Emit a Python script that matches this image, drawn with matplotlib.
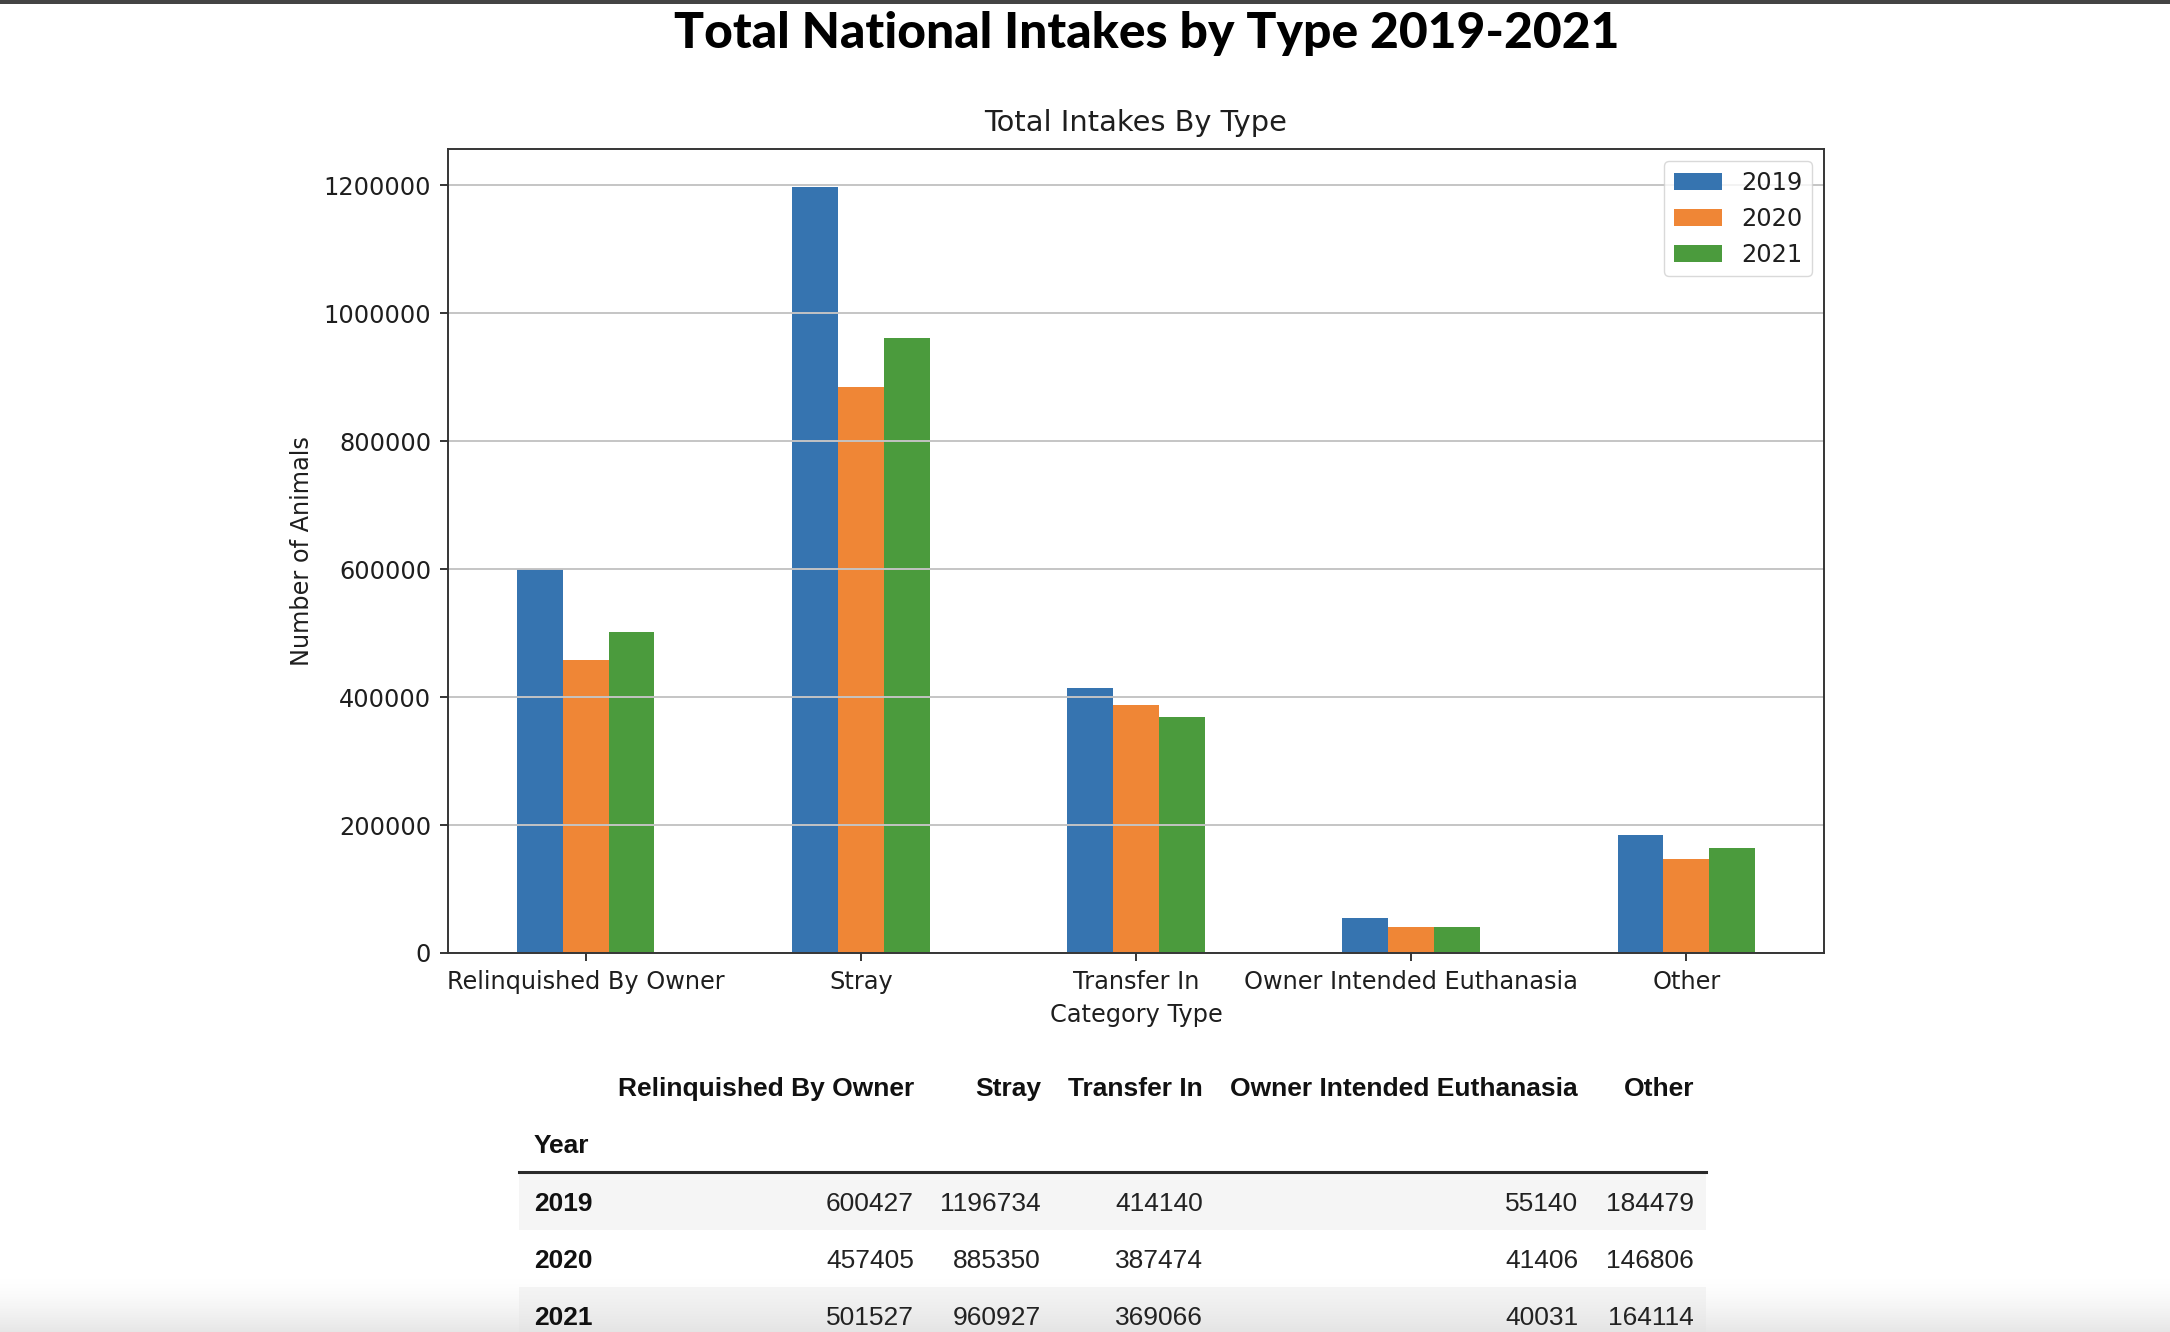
import matplotlib
matplotlib.use("Agg")
import matplotlib.pyplot as plt
import numpy as np
from matplotlib.patches import Rectangle
from matplotlib.ticker import ScalarFormatter

# ---------------- data ----------------
categories = ["Relinquished By Owner", "Stray", "Transfer In",
              "Owner Intended Euthanasia", "Other"]
years = ["2019", "2020", "2021"]
intakes_2019 = [600427, 1196734, 414140, 55140, 184479]
intakes_2020 = [457405, 885350, 387474, 41406, 146806]
intakes_2021 = [501527, 960927, 369066, 40031, 164114]
series = [intakes_2019, intakes_2020, intakes_2021]

main_title = "Total National Intakes by Type 2019-2021"
ax_title = "Total Intakes By Type"
x_label = "Category Type"
y_label = "Number of Animals"
index_name = "Year"

# ---------------- style ----------------
W, H = 2170, 1332
DPI = 100
S = 1.73  # scale relative to matplotlib defaults
colors = ["#3674b0", "#ef8636", "#4b9b3d"]
txt = "#1e1e1e"

plt.rcParams.update({
    "font.family": "DejaVu Sans",
    "font.size": 10 * S,
    "axes.linewidth": 0.8 * S,
    "xtick.major.size": 3.5 * S,
    "ytick.major.size": 3.5 * S,
    "xtick.major.width": 0.8 * S,
    "ytick.major.width": 0.8 * S,
    "xtick.major.pad": 3.5 * S,
    "ytick.major.pad": 3.5 * S,
    "axes.labelpad": 4 * S,
    "axes.titlepad": 7.5 * S,
    "text.color": txt,
    "axes.labelcolor": txt,
    "xtick.color": "#333333",
    "ytick.color": "#333333",
    "xtick.labelcolor": txt,
    "ytick.labelcolor": txt,
    "axes.edgecolor": "#333333",
})

fig = plt.figure(figsize=(W / DPI, H / DPI), dpi=DPI)


def fx(px):
    return px / W


def fy(py):
    return 1 - py / H


# top dark strip of the screenshot
fig.patches.append(Rectangle((0, fy(4)), 1, 4 / H, transform=fig.transFigure,
                             facecolor="#444444", edgecolor="none", zorder=0))

# main heading
fig.text(fx(1147), fy(34), main_title, ha="center", va="center",
         fontsize=35.8, fontweight="black", family=["Lato", "DejaVu Sans"],
         color="#000000")

# ---------------- bar chart ----------------
ax_l, ax_r, ax_t, ax_b = 448, 1824, 149, 953
ax = fig.add_axes([fx(ax_l), fy(ax_b), (ax_r - ax_l) / W, (ax_b - ax_t) / H])

n = len(series)
x = np.arange(len(categories))
total_w = 0.5
bw = total_w / n
for i, (yr, vals) in enumerate(zip(years, series)):
    ax.bar(x + (i - (n - 1) / 2) * bw, vals, width=bw, color=colors[i],
           label=yr, zorder=1)

ax.set_xlim(-0.5, len(categories) - 0.5)
ax.set_xticks(x)
ax.set_xticklabels(categories)
ax.yaxis.set_major_formatter(ScalarFormatter(useOffset=False))
ax.ticklabel_format(style="plain", axis="y")
ax.yaxis.grid(True, color="#c4c4c4", linewidth=0.8 * S)
ax.set_title(ax_title, fontsize=12 * S)
ax.set_xlabel(x_label)
ax.set_ylabel(y_label)
leg = ax.legend(loc="upper right", fontsize=10 * S)
leg.get_frame().set_edgecolor("#d0d0d0")

# ---------------- table ----------------
tfont = ["Liberation Sans", "DejaVu Sans"]
tsize = 19
col_right = [914, 1041, 1203, 1578, 1694]
year_left = 534
tab_left, tab_right = 519, 1706
header_y = 1089
index_y = 1146
line_y = 1172
row_top = [1173, 1230, 1287]
row_h = 57
row_bg = ["#f5f5f5", "#ffffff", "#f5f5f5"]

for j, cat in enumerate(categories):
    fig.text(fx(col_right[j]), fy(header_y), cat, ha="right", va="center",
             fontsize=tsize, fontweight="bold", family=tfont, color="#111111")
fig.text(fx(year_left), fy(index_y), index_name, ha="left", va="center",
         fontsize=tsize, fontweight="bold", family=tfont, color="#111111")

fig.lines.append(plt.Line2D([fx(tab_left), fx(tab_right)], [fy(line_y), fy(line_y)],
                            transform=fig.transFigure, color="#2a2a2a",
                            linewidth=2.2))

for r, (yr, vals) in enumerate(zip(years, series)):
    fig.patches.append(Rectangle((fx(tab_left), fy(row_top[r] + row_h)),
                                 (tab_right - tab_left) / W, row_h / H,
                                 transform=fig.transFigure,
                                 facecolor=row_bg[r], edgecolor="none", zorder=0))
    yc = row_top[r] + row_h / 2 + 2.5
    fig.text(fx(year_left), fy(yc), yr, ha="left", va="center",
             fontsize=tsize, fontweight="bold", family=tfont, color="#111111",
             zorder=5)
    for j, v in enumerate(vals):
        fig.text(fx(col_right[j]), fy(yc), str(v), ha="right", va="center",
                 fontsize=tsize, family=tfont, color="#222222", zorder=5)

# bottom fade of the screenshot (behind the table text)
gh = 55
gax = fig.add_axes([0, 0, 1, gh / H], zorder=1)
gax.set_axis_off()
grad = np.zeros((64, 2, 4))
grad[..., :3] = 0.88
alpha = np.linspace(0.0, 0.85, 64) ** 1.5
grad[..., 3] = alpha[:, None]
gax.imshow(grad, aspect="auto", origin="upper", extent=[0, 1, 0, 1])
gax.set_xlim(0, 1)
gax.set_ylim(0, 1)

fig.savefig("out.png", dpi=DPI)
